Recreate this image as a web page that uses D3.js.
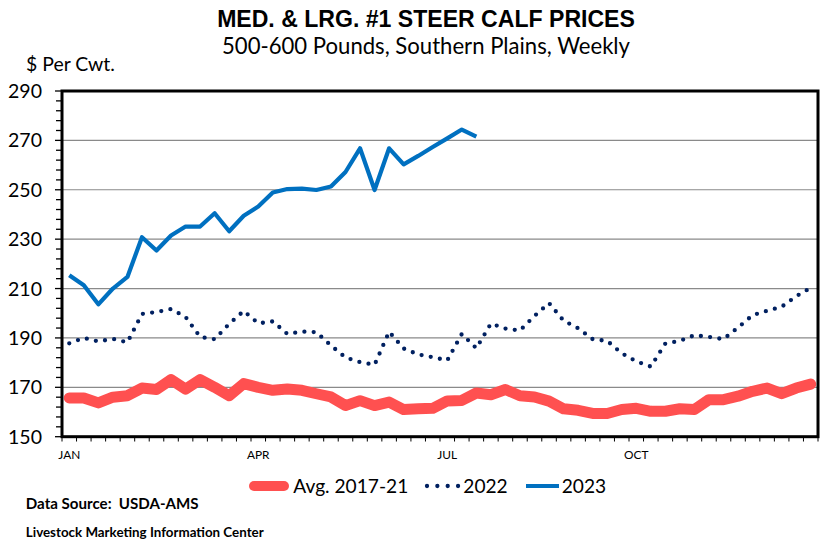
<!doctype html>
<html>
  <head>
    <meta charset="utf-8">
    <title>Steer Calf Prices</title>
    <script src="https://cdnjs.cloudflare.com/ajax/libs/d3/7.8.5/d3.min.js"></script>
    <style>
      body { margin: 0; background: #fff; }
      text { font-family: Lato, "Open Sans", sans-serif; fill: #000; }
    </style>
  </head>
  <body>
    <div id="chart"></div>
    <script>
    // weekly data, $ per cwt
    const avg1721 = [165.7,165.7,163.7,166.0,166.6,169.7,169.1,173.1,169.3,173.1,170.0,166.6,171.5,
                     170.0,168.8,169.3,168.8,167.4,166.1,162.6,164.6,162.6,164.0,161.0,161.3,161.5,
                     164.5,164.7,167.7,167.0,169.1,166.6,166.1,164.4,161.3,160.7,159.4,159.4,161.0,
                     161.5,160.3,160.3,161.3,161.0,165.0,165.0,166.4,168.4,169.7,167.4,169.7,171.3];
    const y2022 = [187.8,190.0,188.6,189.6,188.2,199.7,200.5,201.7,198.5,190.4,189.5,195.7,200.9,
                   195.9,196.7,191.6,192.6,192.3,186.9,182.1,180.2,179.1,192.5,185.7,183.3,182.2,
                   180.9,191.6,185.8,195.8,193.8,193.0,198.9,204.1,197.0,193.9,189.5,188.8,183.8,
                   180.5,178.4,187.7,188.8,191.1,190.4,189.5,194.2,199.2,201.0,202.6,206.9,210.3];
    const y2023 = [215.4,211.3,203.6,210.0,214.7,230.8,225.4,231.5,235.1,235.1,240.5,233.2,239.5,
                   243.2,248.9,250.3,250.5,249.9,251.3,257.2,266.8,249.9,266.8,260.3,263.7,267.3,
                   270.8,274.4,271.5];
    const monthLabels = ["JAN", "APR", "JUL", "OCT"];
    const monthWeeks = [0, 13, 26, 39];
    const yTicks = [150, 170, 190, 210, 230, 250, 270, 290];

    const W = 837, H = 559;
    const svg = d3.select('#chart').append('svg').attr('width', W).attr('height', H);

    const x = d3.scaleBand().domain(d3.range(52)).range([62, 818]);
    const y = d3.scaleLinear().domain([150, 290]).range([436.7, 91]);
    const cx = i => x(i) + x.bandwidth() / 2;

    // scale a text's font-size so it spans a given width
    function fit(sel, w) {
      const fs = parseFloat(sel.attr('font-size'));
      const cur = sel.node().getComputedTextLength();
      const nfs = fs * w / cur;
      sel.attr('font-size', nfs);
      return nfs;
    }

    // gridlines
    svg.append('g').selectAll('line')
      .data(yTicks.filter(d => d > 150 && d < 290))
      .join('line')
      .attr('x1', 62).attr('x2', 818)
      .attr('y1', d => y(d)).attr('y2', d => y(d))
      .attr('stroke', '#8a8a8a').attr('stroke-width', 1.2);

    // y axis with minor ticks
    const yMinor = d3.range(150, 291, 4);
    svg.append('g').selectAll('line')
      .data(yMinor)
      .join('line')
      .attr('x1', d => yTicks.includes(d) ? 55 : 56).attr('x2', 62)
      .attr('y1', d => y(d)).attr('y2', d => y(d))
      .attr('stroke', '#000').attr('stroke-width', 1.3);

    const yLab = svg.append('g').selectAll('text')
      .data(yTicks)
      .join('text')
      .attr('x', 42).attr('y', d => y(d) + 7)
      .attr('text-anchor', 'end')
      .attr('font-size', 20)
      .text(d => d);
    const yfs = fit(d3.select(yLab.nodes()[7]), 34);
    yLab.attr('font-size', yfs);

    // x ticks between weeks
    svg.append('g').selectAll('line')
      .data(d3.range(53))
      .join('line')
      .attr('x1', i => 62 + i * x.step()).attr('x2', i => 62 + i * x.step())
      .attr('y1', 436.7).attr('y2', 441.5)
      .attr('stroke', '#000').attr('stroke-width', 1);

    const xLab = svg.append('g').selectAll('text')
      .data(monthWeeks)
      .join('text')
      .attr('x', i => cx(i)).attr('y', 459)
      .attr('text-anchor', 'middle')
      .attr('font-size', 13)
      .text((d, i) => monthLabels[i]);
    const xfs = fit(d3.select(xLab.nodes()[0]), 22);
    xLab.attr('font-size', xfs);

    // series
    const line = d3.line().x((d, i) => cx(i)).y(d => y(d));

    svg.append('path').datum(avg1721)
      .attr('d', line)
      .attr('fill', 'none').attr('stroke', '#ff5050')
      .attr('stroke-width', 11).attr('stroke-linejoin', 'round').attr('stroke-linecap', 'round');

    svg.append('path').datum(y2022)
      .attr('d', line)
      .attr('fill', 'none').attr('stroke', '#002060')
      .attr('stroke-width', 4.3).attr('stroke-linecap', 'round')
      .attr('stroke-dasharray', '0 9.3');

    svg.append('path').datum(y2023)
      .attr('d', line)
      .attr('fill', 'none').attr('stroke', '#0070c0')
      .attr('stroke-width', 4.2).attr('stroke-linejoin', 'round');

    // plot frame
    svg.append('rect')
      .attr('x', 62).attr('y', 91).attr('width', 756).attr('height', 345.7)
      .attr('fill', 'none').attr('stroke', '#000').attr('stroke-width', 3);

    // titles
    const t1 = svg.append('text')
      .attr('x', 426).attr('y', 27).attr('text-anchor', 'middle')
      .style('font-family', '"Liberation Sans", Arial, sans-serif')
      .attr('font-weight', 700).attr('font-size', 23)
      .text('MED. & LRG. #1 STEER CALF PRICES');
    fit(t1, 418);

    const t2 = svg.append('text')
      .attr('x', 426).attr('y', 54).attr('text-anchor', 'middle')
      .attr('font-size', 21)
      .text('500-600 Pounds, Southern Plains, Weekly');
    fit(t2, 408);

    const t3 = svg.append('text')
      .attr('x', 26).attr('y', 71)
      .attr('font-size', 19)
      .text('$ Per Cwt.');
    fit(t3, 89);

    // legend
    const ly = 486;
    svg.append('line').attr('x1', 254).attr('x2', 284).attr('y1', ly).attr('y2', ly)
      .attr('stroke', '#ff5050').attr('stroke-width', 10).attr('stroke-linecap', 'round');
    svg.append('line').attr('x1', 427).attr('x2', 458.1).attr('y1', ly).attr('y2', ly)
      .attr('stroke', '#002060').attr('stroke-width', 4.3).attr('stroke-linecap', 'round')
      .attr('stroke-dasharray', '0 10.35');
    svg.append('line').attr('x1', 526).attr('x2', 559).attr('y1', ly).attr('y2', ly)
      .attr('stroke', '#0070c0').attr('stroke-width', 4.2);

    const l1 = svg.append('text').attr('x', 293.3).attr('y', 492.7).attr('font-size', 21).text('Avg. 2017-21');
    const lfs = fit(l1, 115);
    svg.append('text').attr('x', 463.3).attr('y', 492.7).attr('font-size', lfs).text('2022');
    svg.append('text').attr('x', 561.7).attr('y', 492.7).attr('font-size', lfs).text('2023');

    // source notes
    const s1 = svg.append('text').attr('x', 25.8).attr('y', 509)
      .attr('font-weight', 700).attr('font-size', 14)
      .style('white-space', 'pre')
      .text('Data Source:  USDA-AMS');
    fit(s1, 173);
    const s2 = svg.append('text').attr('x', 25.8).attr('y', 536.7)
      .attr('font-weight', 700).attr('font-size', 12)
      .text('Livestock Marketing Information Center');
    fit(s2, 238);
    </script>
  </body>
</html>
